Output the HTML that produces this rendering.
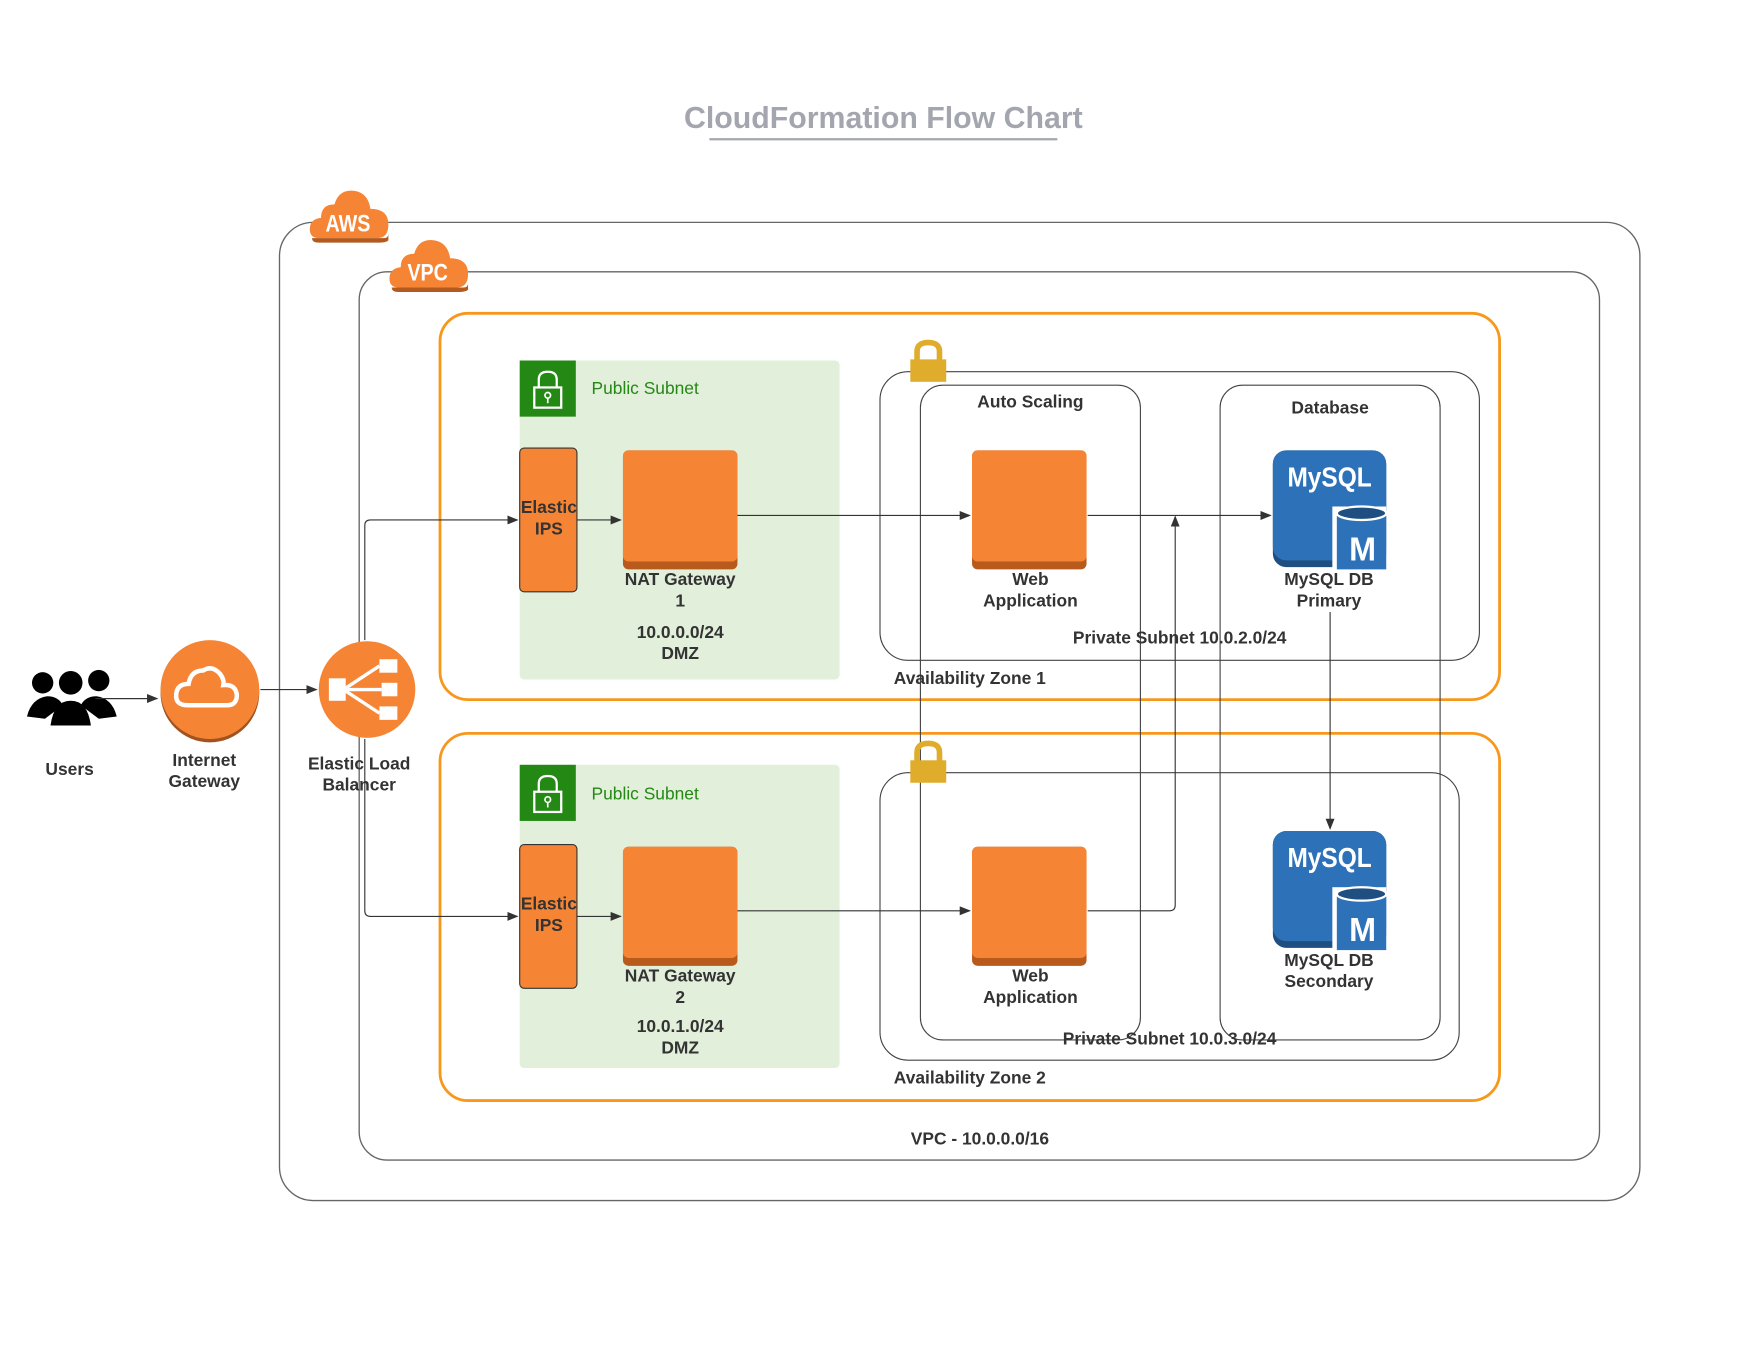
<!DOCTYPE html>
<html><head><meta charset="utf-8"><style>
html,body{margin:0;padding:0;background:#fff}
svg{display:block}
text{font-family:"Liberation Sans",Arial,sans-serif}
.l{font-size:15.5px;font-weight:bold;fill:#333;text-anchor:middle}
</style></head><body>
<svg width="1760" height="1360" viewBox="0 0 1568 1211" preserveAspectRatio="none" xmlns="http://www.w3.org/2000/svg">
<defs>
<marker id="a" markerWidth="10" markerHeight="8" refX="9" refY="4" orient="auto" markerUnits="userSpaceOnUse"><path d="M0,0 L10,4 L0,8 z" fill="#333"/></marker>
<g id="cloud"><path d="M8,44 Q0,44 0,36 Q0,27 10,26 Q10,14 22,14 Q26,0 40,2 Q52,4 54,18 Q70,18 70,32 Q70,44 60,44 Z" fill="#f58534"/><path d="M4,44 L66,44 Q70,44 70,40 L70,46 Q68,48 62,48 L8,48 Q2,48 2,44Z" fill="#b35a1f"/></g>
<g id="orange"><rect x="0" y="0" width="102" height="106" rx="5" fill="#b85a1c"/><rect x="0" y="0" width="102" height="99" rx="5" fill="#f58534"/></g>
<g id="lock"><path d="M6,18 V10 Q6,2 16,2 Q26,2 26,10 V18" fill="none" stroke="#e0ac2c" stroke-width="5"/><rect x="0" y="17" width="32" height="20" fill="#e0ac2c"/></g>
<g id="pubicon"><rect width="50" height="50" fill="#248814"/><path d="M17,24 V17 Q17,10 25,10 Q33,10 33,17 V24" fill="none" stroke="#fff" stroke-width="2"/><rect x="13" y="24" width="24" height="18" fill="none" stroke="#fff" stroke-width="2"/><circle cx="25" cy="31" r="2.5" fill="none" stroke="#fff" stroke-width="1.5"/><line x1="25" y1="33" x2="25" y2="38" stroke="#fff" stroke-width="1.5"/></g>
<g id="mysql"><rect width="101" height="104" rx="12" fill="#1f4f80"/><rect width="101" height="98" rx="12" fill="#2d72b8"/><text x="13" y="32" font-size="25" font-weight="bold" fill="#fff" textLength="75" lengthAdjust="spacingAndGlyphs">MySQL</text><rect x="53" y="50" width="48" height="56" fill="#fff"/><rect x="57" y="55" width="44" height="51" fill="#2d72b8"/><ellipse cx="79" cy="56" rx="22" ry="6" fill="#1f4f80" stroke="#fff" stroke-width="2"/><text x="68" y="98" font-size="30" font-weight="bold" fill="#fff" textLength="24" lengthAdjust="spacingAndGlyphs">M</text></g>
</defs>

<text x="787" y="114" font-size="27" font-weight="bold" fill="#a3a6ae" text-anchor="middle">CloudFormation Flow Chart</text>
<line x1="632" y1="124" x2="942" y2="124" stroke="#a3a6ae" stroke-width="2"/>

<rect x="249" y="198" width="1212" height="871" rx="30" fill="none" stroke="#666" stroke-width="1.2"/>
<rect x="320" y="242" width="1105" height="791" rx="25" fill="none" stroke="#666" stroke-width="1.2"/>
<use href="#cloud" x="276" y="168"/><text x="310" y="206" font-size="21" font-weight="bold" fill="#fff" text-anchor="middle" textLength="40" lengthAdjust="spacingAndGlyphs">AWS</text>
<use href="#cloud" x="347" y="212"/><text x="381" y="250" font-size="21" font-weight="bold" fill="#fff" text-anchor="middle" textLength="36" lengthAdjust="spacingAndGlyphs">VPC</text>

<rect x="392" y="279" width="944" height="344" rx="25" fill="none" stroke="#f7981d" stroke-width="2.5"/>
<rect x="392" y="653" width="944" height="327" rx="25" fill="none" stroke="#f7981d" stroke-width="2.5"/>

<rect x="463" y="321" width="285" height="284" rx="4" fill="#e2efdb"/>
<rect x="463" y="681" width="285" height="270" rx="4" fill="#e2efdb"/>
<use href="#pubicon" x="463" y="321"/><use href="#pubicon" x="463" y="681"/>
<text x="527" y="351" font-size="15.5" fill="#248814">Public Subnet</text>
<text x="527" y="712" font-size="15.5" fill="#248814">Public Subnet</text>

<rect x="784" y="331" width="534" height="257" rx="25" fill="none" stroke="#444" stroke-width="1"/>
<rect x="784" y="688" width="516" height="256" rx="25" fill="none" stroke="#444" stroke-width="1"/>
<rect x="820" y="343" width="196" height="583" rx="20" fill="none" stroke="#444" stroke-width="1"/>
<rect x="1087" y="343" width="196" height="583" rx="20" fill="none" stroke="#444" stroke-width="1"/>
<use href="#lock" x="811" y="303"/><use href="#lock" x="811" y="660"/>

<rect x="463" y="399" width="51" height="128" rx="4" fill="#f58534" stroke="#333" stroke-width="1"/>
<rect x="463" y="752" width="51" height="128" rx="4" fill="#f58534" stroke="#333" stroke-width="1"/>
<use href="#orange" x="555" y="401"/><use href="#orange" x="555" y="754"/>
<use href="#orange" x="866" y="401"/><use href="#orange" x="866" y="754"/>
<use href="#mysql" x="1134" y="401"/><use href="#mysql" x="1134" y="740"/>

<g stroke="#333" stroke-width="1" fill="none">
<line x1="85" y1="622" x2="140" y2="622" marker-end="url(#a)"/>
<line x1="232" y1="614" x2="282" y2="614" marker-end="url(#a)"/>
<path d="M325,570 V468 Q325,463 330,463 H461" marker-end="url(#a)"/>
<path d="M325,658 V811 Q325,816 330,816 H461" marker-end="url(#a)"/>
<line x1="514" y1="463" x2="553" y2="463" marker-end="url(#a)"/>
<line x1="514" y1="816" x2="553" y2="816" marker-end="url(#a)"/>
<line x1="657" y1="459" x2="864" y2="459" marker-end="url(#a)"/>
<line x1="657" y1="811" x2="864" y2="811" marker-end="url(#a)"/>
<line x1="969" y1="459" x2="1132" y2="459" marker-end="url(#a)"/>
<path d="M969,811 H1042 Q1047,811 1047,806 V460" marker-end="url(#a)"/>
<line x1="1185" y1="545" x2="1185" y2="738" marker-end="url(#a)"/>
</g>

<g fill="#000">
<circle cx="38" cy="608" r="9.5"/><circle cx="63" cy="608" r="10.5"/><circle cx="88" cy="606" r="9.5"/>
<path d="M24,638 Q28,622 42,620 Q52,620 56,628 L40,640Z"/><path d="M104,638 Q100,622 86,620 Q76,620 72,628 L88,640Z"/>
<path d="M45,646 Q48,624 63,624 Q78,624 81,646Z"/>
</g>
<line x1="85" y1="622" x2="140" y2="622" stroke="#333" stroke-width="1"/>
<circle cx="187" cy="617" r="44" fill="#a0521f"/><circle cx="187" cy="614" r="44" fill="#f58534"/>
<path d="M167,628 Q156,628 157,618 Q158,609 168,609 Q170,597 181,597 Q189,592 196,600 Q200,605 199,610 Q210,609 211,619 Q211,628 202,628 Z" fill="none" stroke="#fff" stroke-width="4"/>
<circle cx="327" cy="614" r="43" fill="#f58534"/>
<g fill="#fff"><rect x="293" y="604" width="15" height="20"/><rect x="338" y="587" width="16" height="12"/><rect x="340" y="608" width="14" height="12"/><rect x="338" y="629" width="16" height="12"/></g>
<g stroke="#fff" stroke-width="3"><line x1="306" y1="614" x2="338" y2="593"/><line x1="306" y1="614" x2="340" y2="614"/><line x1="306" y1="614" x2="338" y2="635"/></g>

<text class="l" x="62" y="690">Users</text>
<text class="l" x="182" y="682">Internet</text><text class="l" x="182" y="701">Gateway</text>
<text class="l" x="320" y="685">Elastic Load</text><text class="l" x="320" y="704">Balancer</text>
<text class="l" x="489" y="457">Elastic</text><text class="l" x="489" y="476">IPS</text>
<text class="l" x="489" y="810">Elastic</text><text class="l" x="489" y="829">IPS</text>
<text class="l" x="606" y="521">NAT Gateway</text><text class="l" x="606" y="540">1</text>
<text class="l" x="606" y="568">10.0.0.0/24</text><text class="l" x="606" y="587">DMZ</text>
<text class="l" x="606" y="874">NAT Gateway</text><text class="l" x="606" y="893">2</text>
<text class="l" x="606" y="919">10.0.1.0/24</text><text class="l" x="606" y="938">DMZ</text>
<text class="l" x="918" y="363">Auto Scaling</text>
<text class="l" x="1185" y="368">Database</text>
<text class="l" x="918" y="521">Web</text><text class="l" x="918" y="540">Application</text>
<text class="l" x="918" y="874">Web</text><text class="l" x="918" y="893">Application</text>
<text class="l" x="1184" y="521">MySQL DB</text><text class="l" x="1184" y="540">Primary</text>
<text class="l" x="1184" y="860">MySQL DB</text><text class="l" x="1184" y="879">Secondary</text>
<text class="l" x="1051" y="573">Private Subnet 10.0.2.0/24</text>
<text class="l" x="864" y="609">Availability Zone 1</text>
<text class="l" x="1042" y="930">Private Subnet  10.0.3.0/24</text>
<text class="l" x="864" y="965">Availability Zone 2</text>
<text class="l" x="873" y="1019">VPC - 10.0.0.0/16</text>
</svg>
</body></html>
